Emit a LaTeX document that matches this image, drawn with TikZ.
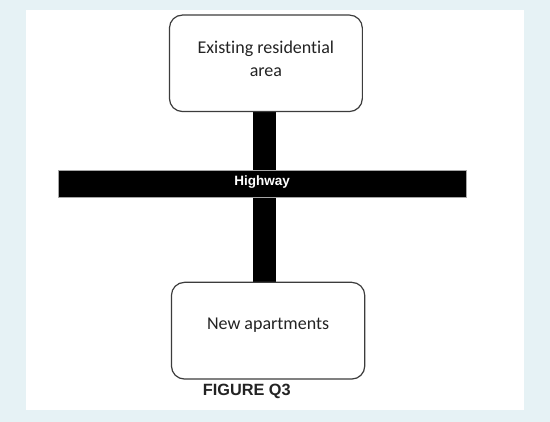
\documentclass[tikz,border=0pt]{standalone}
\usepackage{fontspec}
\setmainfont[Ligatures={NoCommon}]{Carlito}
\newfontfamily\arialf{Liberation Sans}
\definecolor{pagebg}{RGB}{230,242,245}
\definecolor{boxline}{RGB}{60,60,60}
\definecolor{txt}{RGB}{35,35,35}
\tikzset{
  areabox/.style={draw=boxline, line width=1.2pt, rounded corners=13pt, fill=white, inner sep=0pt},
  boxtext/.style={font=\fontsize{18}{22.5}\selectfont, text=txt, align=center, inner sep=0pt},
  road/.style={line width=23.2pt, draw=black},
}
\begin{document}
\begin{tikzpicture}[x=1pt,y=-1pt]
\useasboundingbox (0,0) rectangle (550,422);
\fill[pagebg] (0,0) rectangle (550,422);
\fill[white] (26.3,10) rectangle (524,409.7);
% vertical road
\coordinate (r1) at (264.8,110);
\coordinate (r2) at (264.8,283);
\draw[road] (r1) -- (r2);
% highway
\node[fill=black, draw=gray!70, line width=0.4pt, minimum width=408.6pt, minimum height=27pt, inner sep=0pt] (hw) at (262.2,183.5) {};
\node[font=\arialf\bfseries\fontsize{13.5}{16}\selectfont, text=white, inner sep=0pt] (hwl) at (262.2,182.3) {Highway};
% boxes
\node[areabox, minimum width=192.9pt, minimum height=96.5pt] (top) at (265.9,63.3) {};
\node[boxtext] (toptext) at (265.9,58.6) {Existing residential\\area};
\node[areabox, minimum width=193.3pt, minimum height=96.7pt] (bot) at (268.1,330.7) {};
\node[boxtext] (bottext) at (268.1,325.5) {New apartments};
% caption
\node[font=\arialf\bfseries\fontsize{16.3}{19}\selectfont, text=txt, inner sep=0pt, anchor=base west] (cap) at (202.7,395.8) {FIGURE Q3};
\end{tikzpicture}
\end{document}
